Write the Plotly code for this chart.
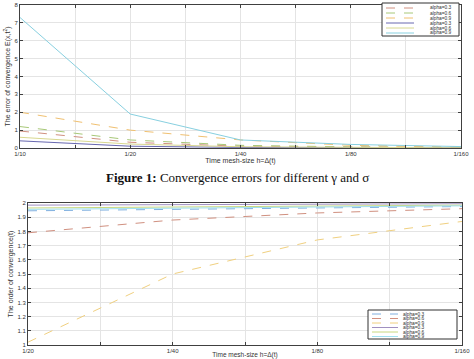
import plotly.graph_objects as go

# ---- data ----
top_x = [1, 2, 3, 4, 5]
top_labels = ["1/10", "1/20", "1/40", "1/80", "1/160"]
legend_names = ["alpha=0.3", "alpha=0.6", "alpha=0.9", "alpha=0.3", "alpha=0.6", "alpha=0.9"]
top_t1 = [0.95, 0.32, 0.10, 0.04, 0.02]
top_t2 = [1.20, 0.45, 0.15, 0.06, 0.03]
top_t3 = [2.00, 1.00, 0.45, 0.15, 0.05]
top_t4 = [0.40, 0.10, 0.03, 0.01, 0.005]
top_t5 = [0.60, 0.22, 0.07, 0.03, 0.01]
top_t6 = [7.30, 1.90, 0.45, 0.20, 0.08]

bot_x = [1, 2, 3, 4]
bot_labels = ["1/20", "1/40", "1/80", "1/160"]
bot_b1 = [1.945, 1.955, 1.965, 1.975]
bot_b2 = [1.79, 1.88, 1.93, 1.96]
bot_b3 = [1.02, 1.50, 1.74, 1.87]
bot_b4 = [1.985, 1.99, 1.993, 1.995]
bot_b5 = [1.965, 1.97, 1.978, 1.985]
bot_b6 = [1.955, 1.962, 1.972, 1.98]

top_series = [top_t1, top_t2, top_t3, top_t4, top_t5, top_t6]
top_colors = ["#d09080", "#a8c878", "#f0c070", "#6868b0", "#d8d890", "#88d0e0"]
top_dash = ["dash", "dash", "dash", "solid", "solid", "solid"]

bot_series = [bot_b1, bot_b2, bot_b3, bot_b4, bot_b5, bot_b6]
bot_colors = ["#80b0e0", "#d09080", "#f0d080", "#a090c0", "#c8d880", "#a0e0f0"]
bot_dash = ["dash", "dash", "dash", "solid", "solid", "solid"]

W, H = 474, 359

fig = go.Figure()
for ys, c, d, n in zip(top_series, top_colors, top_dash, legend_names):
    fig.add_trace(go.Scatter(x=top_x, y=ys, mode="lines", name=n, showlegend=False,
                             line=dict(color=c, width=1, dash=d),
                             xaxis="x", yaxis="y"))
for ys, c, d, n in zip(bot_series, bot_colors, bot_dash, legend_names):
    fig.add_trace(go.Scatter(x=bot_x, y=ys, mode="lines", name=n, showlegend=False,
                             line=dict(color=c, width=1, dash=d),
                             xaxis="x2", yaxis="y2"))

axis_common = dict(showline=True, linecolor="#404040", linewidth=1, mirror="ticks",
                   ticks="inside", ticklen=3, tickcolor="#404040",
                   gridcolor="#e4e4e4", gridwidth=1, zeroline=False, automargin=False,
                   tickfont=dict(size=6, color="#333", family="Liberation Sans"))

title_font = dict(size=7, color="#333", family="Liberation Sans")

fig.update_layout(
    width=W, height=H,
    margin=dict(l=0, r=0, t=0, b=0),
    paper_bgcolor="white", plot_bgcolor="white",
    showlegend=False,
    xaxis=dict(domain=[20/W, 461/W], anchor="y", range=[1, 5],
               tickvals=top_x, ticktext=top_labels,
               minor=dict(tickvals=[1.5, 2.5, 3.5, 4.5], showgrid=True, gridcolor="#e4e4e4",
                          ticks="inside", ticklen=3, tickcolor="#404040"),
               title=dict(text="Time mesh-size h=Δ(t)", font=title_font, standoff=1),
               **axis_common),
    yaxis=dict(domain=[1-148/H, 1-5/H], anchor="x", range=[0, 8], dtick=1,
               title=dict(text="The error of convergence E(x,t<sup>2</sup>)", font=title_font, standoff=3),
               **axis_common),
    xaxis2=dict(domain=[28/W, 462/W], anchor="y2", range=[1, 4],
                tickvals=bot_x, ticktext=bot_labels,
                minor=dict(tickvals=[1.5, 2.5, 3.5], showgrid=True, gridcolor="#e4e4e4",
                           ticks="inside", ticklen=3, tickcolor="#404040"),
                title=dict(text="Time mesh-size h=Δ(t)", font=dict(size=6.5, color="#333", family="Liberation Sans"), standoff=0),
                **axis_common),
    yaxis2=dict(domain=[1-345/H, 1-203/H], anchor="x2", range=[1, 2],
                tickvals=[1, 1.1, 1.2, 1.3, 1.4, 1.5, 1.6, 1.7, 1.8, 1.9, 2],
                ticktext=["1", "1.1", "1.2", "1.3", "1.4", "1.5", "1.6", "1.7", "1.8", "1.9", "2"],
                title=dict(text="The order of convergence(t)", font=title_font, standoff=3),
                **axis_common),
)

shapes = []
annotations = [dict(text="<b>Figure 1:</b> Convergence errors for different γ and σ",
                    xref="paper", yref="paper", x=0.5, y=1-177/H,
                    showarrow=False, xanchor="center", yanchor="middle",
                    font=dict(size=13, color="#111", family="Liberation Serif"))]

leg_font = dict(size=4.8, color="#333", family="Liberation Sans")

def add_legend(box, rows_y, sample_x, text_x, text_anchor, colors, dashes):
    x0, y0, x1, y1 = box
    shapes.append(dict(type="rect", xref="paper", yref="paper",
                       x0=x0/W, x1=x1/W, y0=1-y1/H, y1=1-y0/H,
                       line=dict(color="#303030", width=1), fillcolor="white", layer="above"))
    for ry, c, d, n in zip(rows_y, colors, dashes, legend_names):
        shapes.append(dict(type="line", xref="paper", yref="paper",
                           x0=sample_x[0]/W, x1=sample_x[1]/W, y0=1-ry/H, y1=1-ry/H,
                           line=dict(color=c, width=1, dash=d), layer="above"))
        annotations.append(dict(text=n, xref="paper", yref="paper", x=text_x/W, y=1-ry/H,
                                showarrow=False, xanchor=text_anchor, yanchor="middle",
                                borderpad=0, font=leg_font))

add_legend((382, 3, 459, 36), [8, 13, 18, 23, 28, 33], (386, 414), 453, "right",
           top_colors, top_dash)
add_legend((368, 310, 457, 339), [314, 318.5, 323, 327.5, 332, 336.5], (372, 398), 402, "left",
           bot_colors, bot_dash)

fig.update_layout(shapes=shapes, annotations=annotations)

fig.write_html("out.html", config={"displayModeBar": False},
               post_script="document.body.style.margin='0';document.body.style.overflow='hidden';")
